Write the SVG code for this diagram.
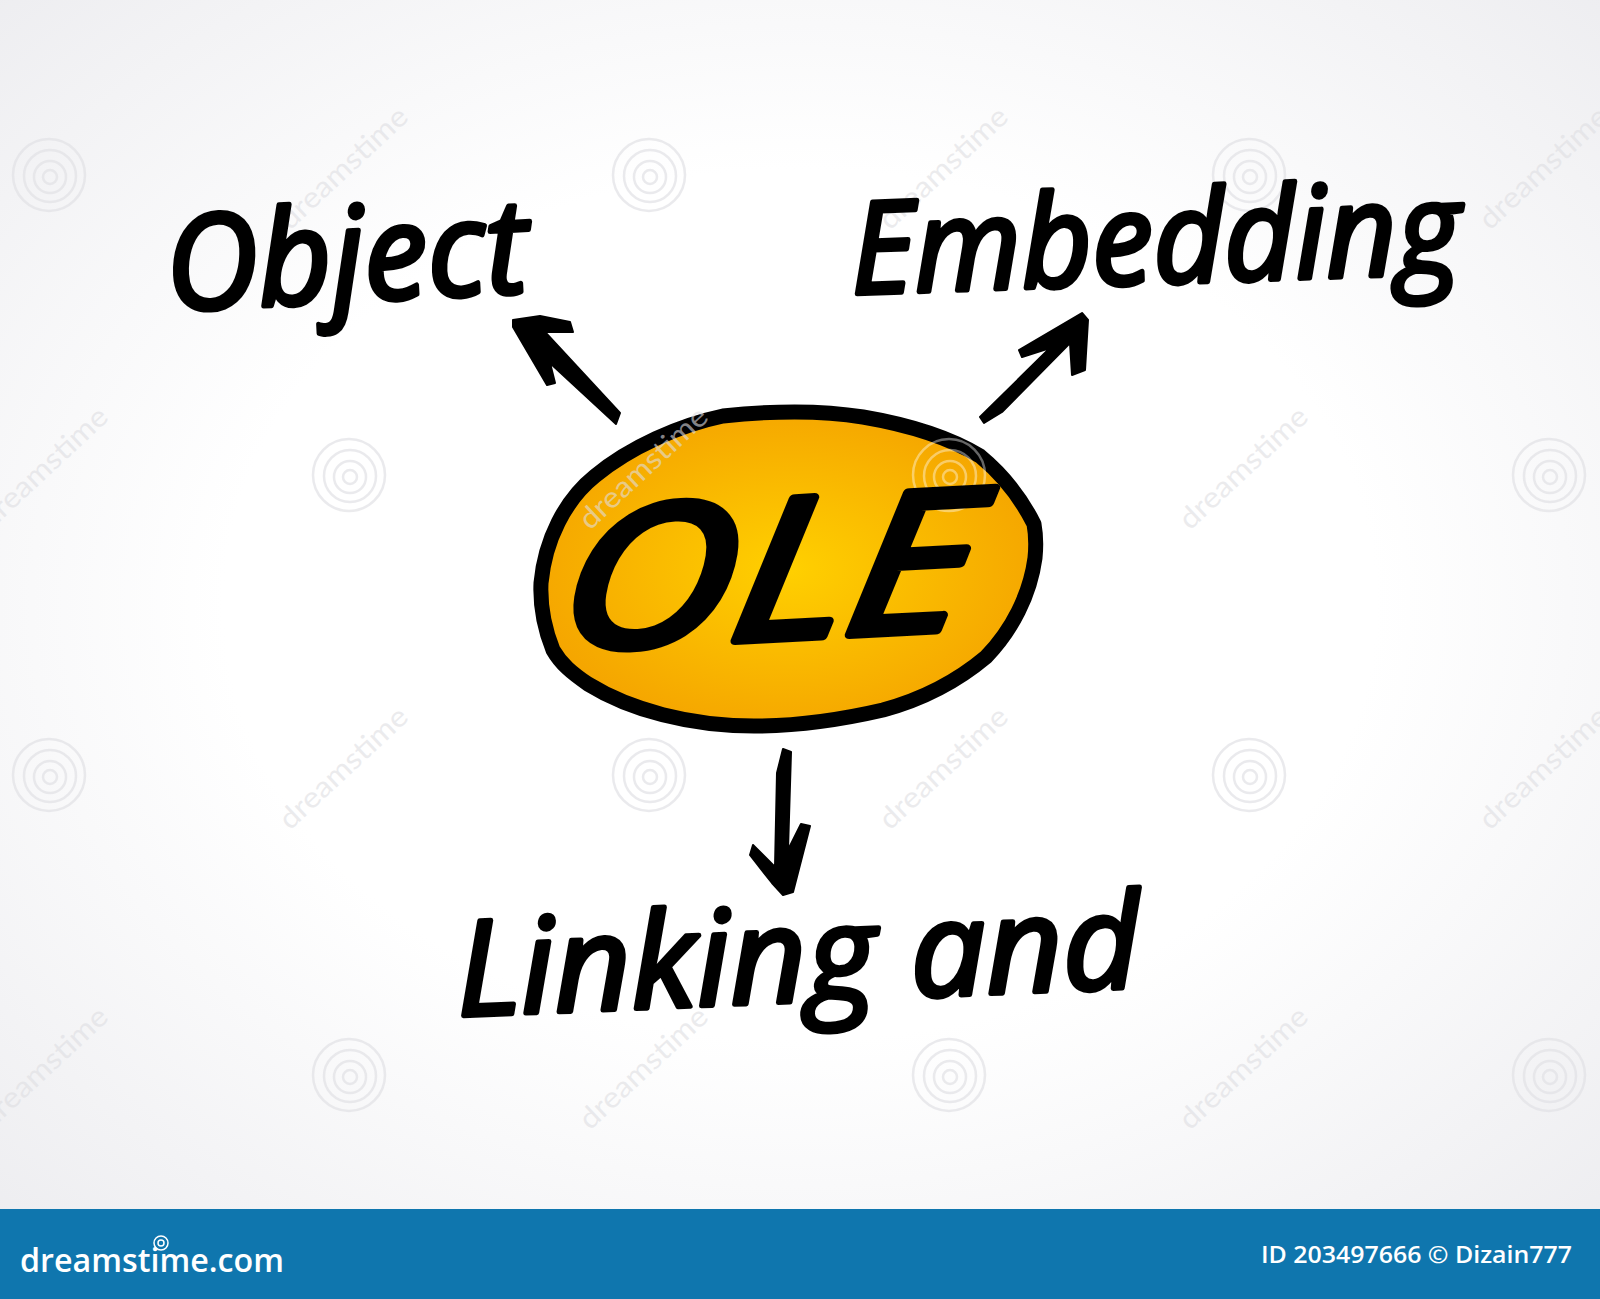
<svg xmlns="http://www.w3.org/2000/svg" xmlns:xlink="http://www.w3.org/1999/xlink" width="1600" height="1299" viewBox="0 0 1600 1299">
<defs>
<radialGradient id="bg" cx="50%" cy="50%" r="72%">
<stop offset="0.5" stop-color="#ffffff"/>
<stop offset="1" stop-color="#ededf0"/>
</radialGradient>
<radialGradient id="fill" cx="50%" cy="50%" r="52%">
<stop offset="0" stop-color="#ffd000"/>
<stop offset="1" stop-color="#f5a600"/>
</radialGradient>
<g id="spiral" fill="none" stroke-width="2.5">
<circle r="36"/>
<circle r="26" cx="1" cy="1"/>
<circle r="16" cx="1" cy="2"/>
<circle r="7" cx="1" cy="2"/>
</g>
<text id="wm" class="wm" x="-82" y="0" textLength="164" lengthAdjust="spacingAndGlyphs">dreamstime</text>
</defs>
<style>
.hand{font-family:"Open Sans","Liberation Sans",sans-serif;font-style:italic;font-weight:400;fill:#000;stroke:#000;stroke-linejoin:round}
.wm{font-family:"Lato","Liberation Sans",sans-serif;font-size:29px;fill:#dedee2;fill-opacity:.6}
.arrow{fill:#000;stroke:#000;stroke-width:2;stroke-linejoin:round}
.sp{stroke:#e2e2e6;opacity:.7}
.banner{font-family:"Open Sans","Liberation Sans",sans-serif;fill:#fff}
</style>
<rect id="background" width="1600" height="1209" fill="url(#bg)"/>
<g id="watermarks-back">
<use xlink:href="#spiral" class="sp" x="49" y="175"/><use xlink:href="#spiral" class="sp" x="649" y="175"/><use xlink:href="#spiral" class="sp" x="1249" y="175"/>
<use xlink:href="#spiral" class="sp" x="349" y="475"/><use xlink:href="#spiral" class="sp" x="1549" y="475"/>
<use xlink:href="#spiral" class="sp" x="49" y="775"/><use xlink:href="#spiral" class="sp" x="649" y="775"/><use xlink:href="#spiral" class="sp" x="1249" y="775"/>
<use xlink:href="#spiral" class="sp" x="349" y="1075"/><use xlink:href="#spiral" class="sp" x="949" y="1075"/><use xlink:href="#spiral" class="sp" x="1549" y="1075"/>
<use xlink:href="#wm" transform="translate(350 175) rotate(-43)"/><use xlink:href="#wm" transform="translate(950 175) rotate(-43)"/><use xlink:href="#wm" transform="translate(1550 175) rotate(-43)"/>
<use xlink:href="#wm" transform="translate(50 475) rotate(-43)"/><use xlink:href="#wm" transform="translate(1250 475) rotate(-43)"/>
<use xlink:href="#wm" transform="translate(350 775) rotate(-43)"/><use xlink:href="#wm" transform="translate(950 775) rotate(-43)"/><use xlink:href="#wm" transform="translate(1550 775) rotate(-43)"/>
<use xlink:href="#wm" transform="translate(50 1075) rotate(-43)"/><use xlink:href="#wm" transform="translate(650 1075) rotate(-43)"/><use xlink:href="#wm" transform="translate(1250 1075) rotate(-43)"/>
</g>
<g id="connectors">
<path id="arrow-object" class="arrow" d="M513 320L540 316L570 322L573 332L545 332L620 413L616 424L550 363L555 383L547 385L513 327Z"/>
<path id="arrow-embedding" class="arrow" d="M1082 313L1088 320L1085 370L1072 375L1070 343L1002 412L984 423L980 417L1050 348L1022 357L1019 350Z"/>
<path id="arrow-linking" class="arrow" d="M783 749L791 752L788 850L801 824L810 826L793 892L783 895L772 883L750 855L753 845L775 867L777 773Z"/>
</g>
<g id="node-ole">
<path d="M541 583C545 540 565 500 595 476C630 447 680 425 723 416C770 411 820 410 863 417C910 425 950 438 980 456C1003 475 1022 500 1034 524C1036 535 1036 548 1035 558C1030 595 1012 630 986 657C955 683 920 700 883 710C840 720 795 726 754 726C690 726 630 710 588 684C572 673 561 664 553 650C545 630 540 605 541 583Z" fill="url(#fill)" stroke="#000" stroke-width="15" stroke-linejoin="round"/>
<g stroke="#fff" stroke-opacity=".4"><use xlink:href="#spiral" x="949" y="475"/></g>
<use xlink:href="#wm" transform="translate(650 475) rotate(-43)" style="fill:#fff"/>
<text class="hand" transform="translate(554 650) rotate(-3) skewX(-12)" font-size="194" stroke-width="9" textLength="410" lengthAdjust="spacingAndGlyphs">OLE</text>
</g>
<g id="node-object">
<text class="hand" transform="translate(168 311) rotate(-3)" font-size="132" stroke-width="5" textLength="362" lengthAdjust="spacingAndGlyphs">Object</text>
</g>
<g id="node-embedding">
<text class="hand" transform="translate(852 294) rotate(-2)" font-size="128" stroke-width="5" textLength="610" lengthAdjust="spacingAndGlyphs">Embedding</text>
</g>
<g id="node-linking">
<text class="hand" transform="translate(458 1016) rotate(-2.4)" font-size="132" stroke-width="5" textLength="684" lengthAdjust="spacingAndGlyphs">Linking and</text>
</g>
<g id="banner">
<rect y="1209" width="1600" height="90" fill="#0f76ae"/>
<text class="banner" x="20" y="1272" font-size="33" font-weight="600" textLength="264" lengthAdjust="spacingAndGlyphs">dreamstime.com</text>
<g fill="none" stroke="#fff" stroke-width="1.5"><circle cx="161" cy="1243" r="7"/><circle cx="161" cy="1243" r="3"/></g>
<text class="banner" x="1261" y="1263" font-size="24" font-weight="600" textLength="311" lengthAdjust="spacingAndGlyphs">ID 203497666 © Dizain777</text>
</g>
</svg>
